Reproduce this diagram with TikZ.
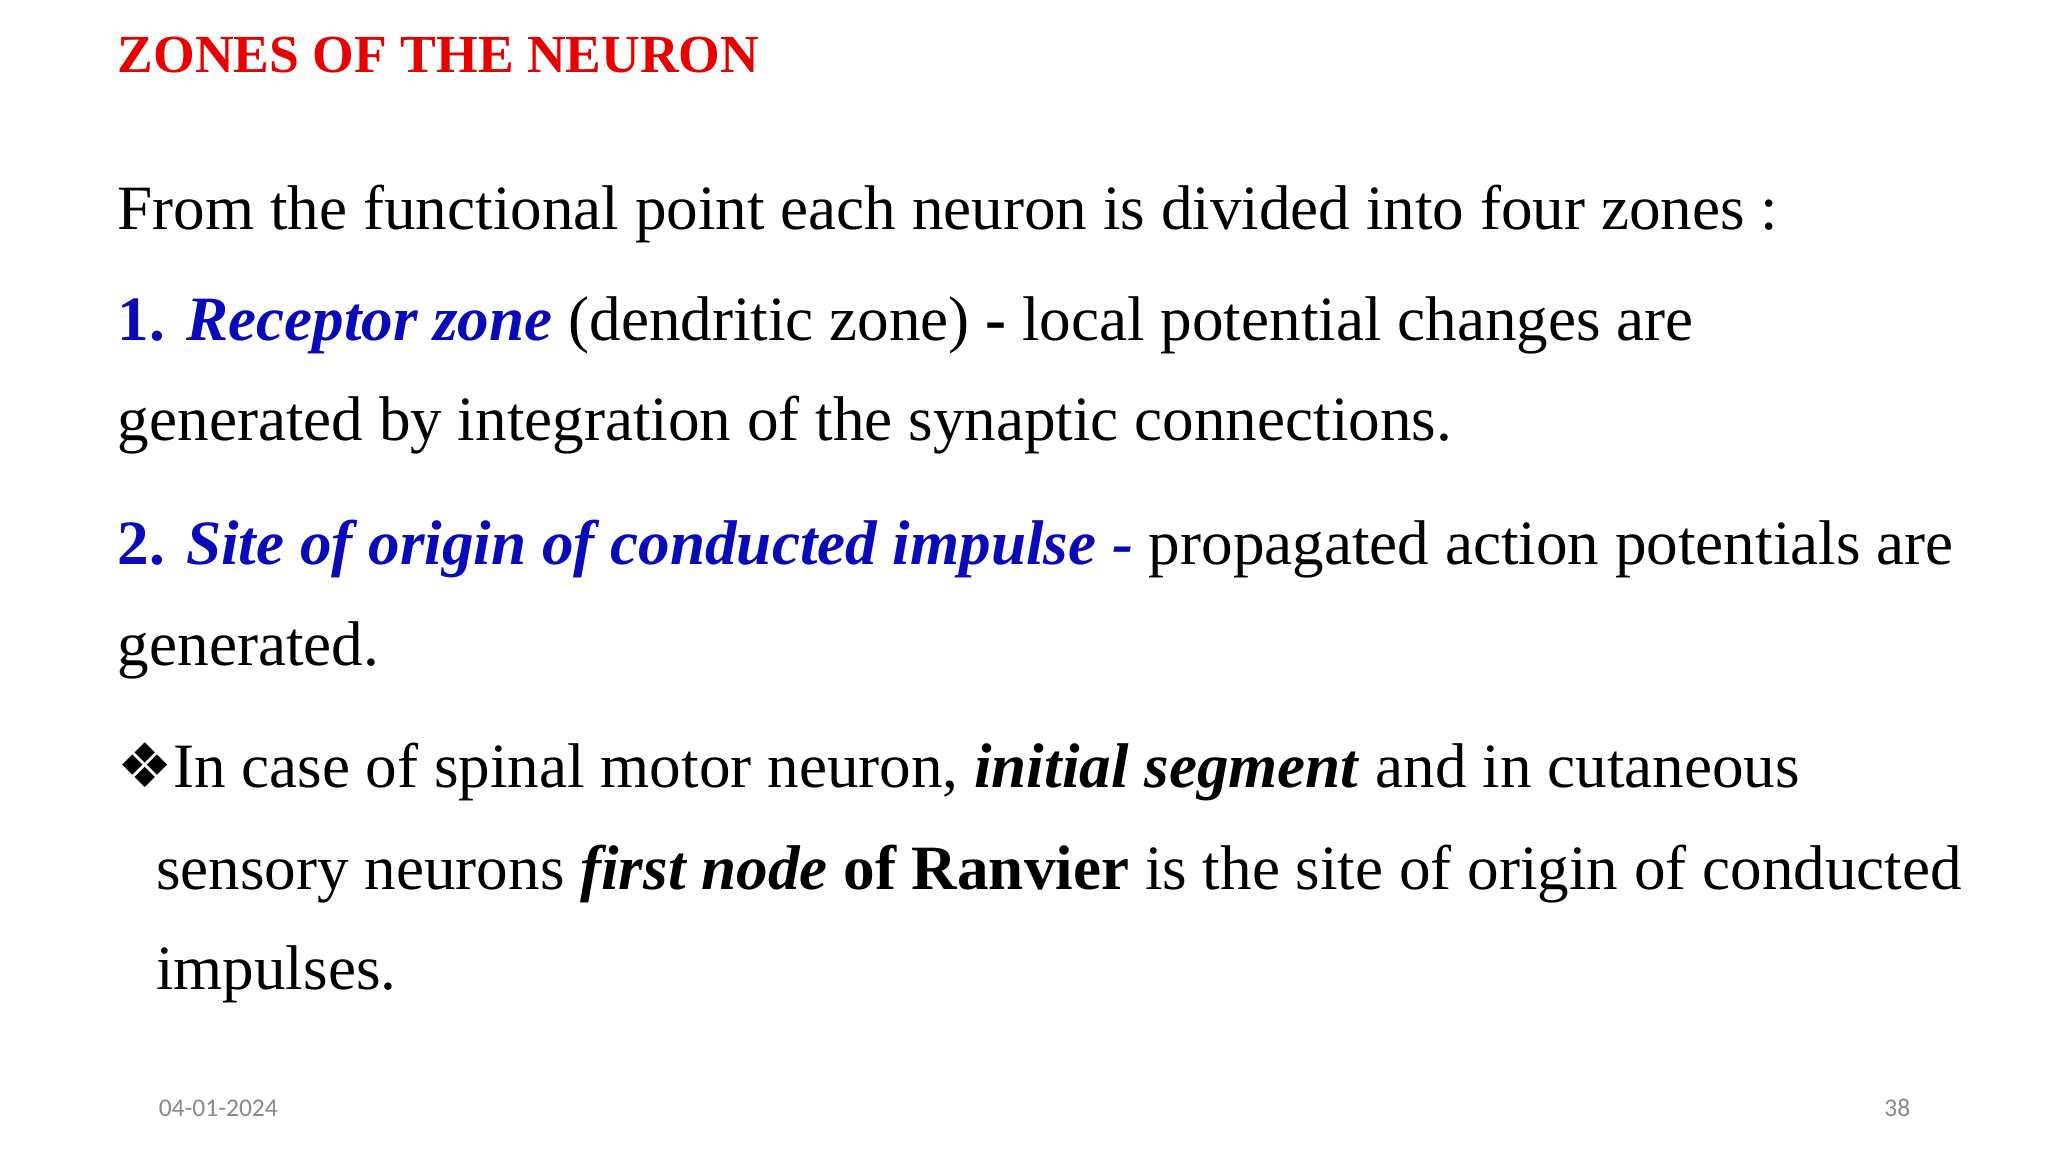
\documentclass[tikz,border=0pt]{standalone}
\usepackage{fontspec}
\setmainfont{Liberation Serif}
\newfontfamily\dejavu{DejaVu Sans}
\newfontfamily\calib{Carlito}
\definecolor{ttlred}{RGB}{230,0,0}
\definecolor{zblue}{RGB}{10,10,185}
\definecolor{footgray}{RGB}{137,137,137}
\begin{document}
\begin{tikzpicture}[x=0.02182cm,y=-0.02182cm,
  txt/.style={anchor=base west,inner sep=0pt,font=\fontsize{29.7}{36}\selectfont},
  ttl/.style={anchor=base west,inner sep=0pt,font=\fontsize{25.2}{30}\selectfont\bfseries,text=ttlred},
  foot/.style={inner sep=0pt,font=\calib\fontsize{12}{14}\selectfont,text=footgray}]
\fill[white] (0,0) rectangle (1552,873);
\node[ttl] (title) at (89,55) {ZONES OF THE NEURON};
\node[txt] (l1) at (89,174) {From the functional point each neuron is divided into four zones :};
\node[txt] (l2) at (89,258) {\textcolor{zblue}{\textbf{1.} \textbf{\textit{Receptor zone}}} (dendritic zone) \textbf{-} local potential changes are};
\node[txt] (l3) at (89,334) {generated by integration of the synaptic connections.};
\node[txt] (l4) at (89,428) {\textcolor{zblue}{\textbf{2.} \textbf{\textit{Site of origin of conducted impulse -}}} propagated action potentials are};
\node[txt] (l5) at (89,504) {generated.};
\node[txt] (l6) at (89,597) {{\dejavu\fontsize{29}{32}\selectfont ❖}In case of spinal motor neuron, \textbf{\textit{initial segment}} and in cutaneous};
\node[txt] (l7) at (118,674) {sensory neurons \textbf{\textit{first node}} \textbf{of Ranvier} is the site of origin of conducted};
\node[txt] (l8) at (118,750) {impulses.};
\node[foot,anchor=base west] (date) at (120,846) {04-01-2024};
\node[foot,anchor=base east] (page) at (1448,846) {38};
\end{tikzpicture}
\end{document}
